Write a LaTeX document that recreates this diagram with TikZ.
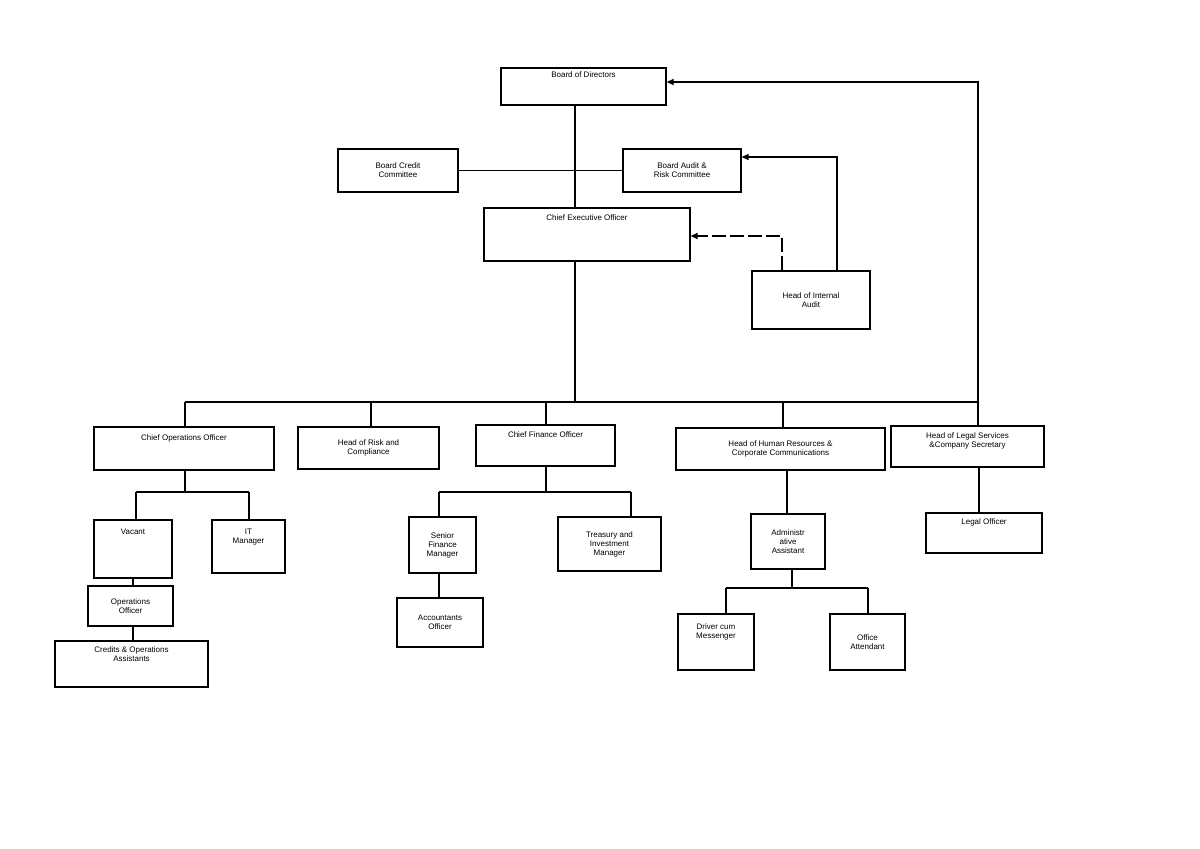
\documentclass[tikz,border=0pt]{standalone}
\usepackage{fontspec}
\setmainfont{Liberation Sans}
\usetikzlibrary{arrows.meta}
\begin{document}
\begin{tikzpicture}[x=1pt,y=-1pt,
  box/.style={draw,line width=1.2pt,inner sep=0pt,font=\fontsize{8}{9}\selectfont,align=center},
  ln/.style={line width=1.2pt},
  arr/.style={line width=1.2pt,-{Triangle[length=7pt,width=6pt]}}]
\useasboundingbox (0,0) rectangle (1200,849);
\newcommand\bx[6]{\node[box,minimum width=#4-#2,minimum height=#5-#3] (#1) at ({(#2+#4)/2},{(#3+#5)/2}) {#6};}
\bx{bod}{501}{68}{666}{105}{Board of Directors\\[14pt]}
\bx{bcc}{338}{149}{458}{192}{Board Credit\\Committee}
\bx{bar}{623}{149}{741}{192}{Board Audit \&\\Risk Committee}
\bx{ceo}{484}{208}{690}{261}{Chief Executive Officer\\[24pt]}
\bx{hia}{752}{271}{870}{329}{Head of Internal\\Audit}
\bx{coo}{94}{427}{274}{470}{Chief Operations Officer\\[12pt]}
\bx{hrc}{298}{427}{439}{469}{Head of Risk and\\Compliance}
\bx{cfo}{476}{425}{615}{466}{Chief Finance Officer\\[12pt]}
\bx{hr}{676}{428}{885}{470}{Head of Human Resources \&\\Corporate Communications}
\bx{leg}{891}{426}{1044}{467}{Head of Legal Services\\\&Company Secretary\\[4pt]}
\bx{vac}{94}{520}{172}{578}{Vacant\\[26pt]}
\bx{itm}{212}{520}{285}{573}{IT\\Manager\\[12pt]}
\bx{opo}{88}{586}{173}{626}{Operations\\Officer}
\bx{coa}{55}{641}{208}{687}{Credits \& Operations\\Assistants\\[10pt]}
\bx{sfm}{409}{517}{476}{573}{Senior\\Finance\\Manager}
\bx{tim}{558}{517}{661}{571}{Treasury and\\Investment\\Manager}
\bx{aco}{397}{598}{483}{647}{Accountants\\Officer}
\bx{adm}{751}{514}{825}{569}{Administr\\ative\\Assistant}
\bx{drv}{678}{614}{754}{670}{Driver cum\\Messenger\\[12pt]}
\bx{ofa}{830}{614}{905}{670}{Office\\Attendant}
\bx{lgo}{926}{513}{1042}{553}{Legal Officer\\[14pt]}
% top
\draw[ln] (bod.south -| 575,0) -- (ceo.north -| 575,0);
\draw[ln] (bcc.east) -- (bar.west);
\draw[ln] (ceo.south -| 575,0) -- (575,402);
\draw[ln] (185,402) -- (978,402);
\draw[ln] (185,402) -- (coo.north -| 185,0);
\draw[ln] (371,402) -- (hrc.north -| 371,0);
\draw[ln] (546,402) -- (cfo.north -| 546,0);
\draw[ln] (783,402) -- (hr.north -| 783,0);
\draw[ln] (978,402) -- (leg.north -| 978,0);
\draw[arr] (978,402) -- (978,82) -- (bod.east |- 0,82);
\draw[arr] (hia.north -| 837,0) -- (837,157) -- (bar.east |- 0,157);
\draw[arr,dashed,dash pattern=on 14pt off 4pt] (hia.north -| 782,0) -- (782,236) -- (ceo.east |- 0,236);
% COO
\draw[ln] (coo.south -| 185,0) -- (185,492);
\draw[ln] (136,492) -- (249,492);
\draw[ln] (136,492) -- (vac.north -| 136,0);
\draw[ln] (249,492) -- (itm.north -| 249,0);
\draw[ln] (vac.south -| 133,0) -- (opo.north -| 133,0);
\draw[ln] (opo.south -| 133,0) -- (coa.north -| 133,0);
% CFO
\draw[ln] (cfo.south -| 546,0) -- (546,492);
\draw[ln] (439,492) -- (631,492);
\draw[ln] (439,492) -- (sfm.north -| 439,0);
\draw[ln] (631,492) -- (tim.north -| 631,0);
\draw[ln] (sfm.south -| 439,0) -- (aco.north -| 439,0);
% HR
\draw[ln] (hr.south -| 787,0) -- (adm.north -| 787,0);
\draw[ln] (adm.south -| 792,0) -- (792,588);
\draw[ln] (726,588) -- (868,588);
\draw[ln] (726,588) -- (drv.north -| 726,0);
\draw[ln] (868,588) -- (ofa.north -| 868,0);
% Legal
\draw[ln] (leg.south -| 979,0) -- (lgo.north -| 979,0);
\end{tikzpicture}
\end{document}
